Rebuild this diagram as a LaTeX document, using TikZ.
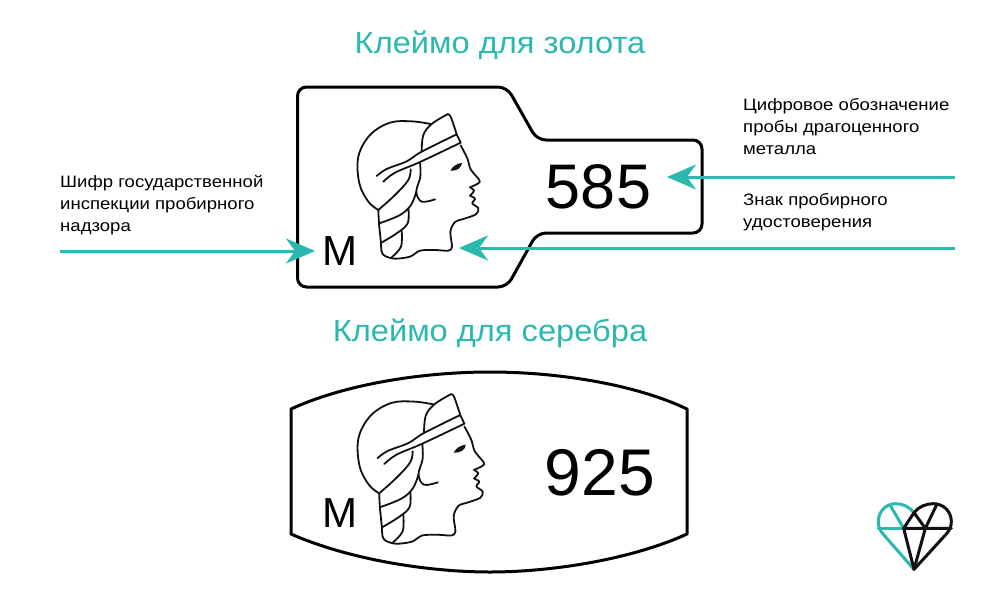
\documentclass[tikz,border=0pt]{standalone}
\usepackage{fontspec}
\setmainfont{Liberation Sans}
\usetikzlibrary{arrows.meta}
\definecolor{teal1}{HTML}{2BB8AE}
\definecolor{ink}{HTML}{111111}
\tikzset{
  stamp/.style={draw=black,line width=3pt,line join=round},
  headline/.style={draw=ink,line width=1.8pt,line cap=round,line join=round},
  title/.style={text=teal1,font=\fontsize{30.5}{34}\selectfont\addfontfeature{FakeStretch=1.07},inner sep=0pt,anchor=center},
  note/.style={text=black,font=\fontsize{16.5}{22}\selectfont\addfontfeature{FakeStretch=1.125},inner sep=0pt,anchor=north west,align=left},
  marker/.style={text=black,font=\fontsize{42}{46}\selectfont,inner sep=0pt,anchor=center},
  numeral/.style={text=black,font=\fontsize{63}{66}\selectfont,inner sep=0pt,anchor=center},
  numeralb/.style={text=black,font=\fontsize{66}{70}\selectfont,inner sep=0pt,anchor=center},
  pointer/.style={draw=teal1,line width=3pt,-{Stealth[length=29pt,width=25pt,inset=9pt]}},
  logot/.style={draw=teal1,line width=3pt,line join=round,line cap=round},
  logok/.style={draw=ink,line width=3pt,line join=round,line cap=round},
}
\newcommand{\headart}{%
  % dome
  \draw[headline] plot[smooth,tension=.6] coordinates {(272,72) (215,64) (150,68) (90,105) (55,170) (58,250) (85,305) (115,330)};
  % front flap
  \draw[headline] plot[smooth,tension=.6] coordinates {(245,155) (250,105) (275,72) (322,43)};
  \draw[headline] plot[smooth,tension=.6] coordinates {(322,43) (332,50) (350,103)};
  % band
  \draw[headline] plot[smooth,tension=.6] coordinates {(110,228) (140,207) (200,184) (245,155) (350,103)};
  \draw[headline] (350,103) -- (362,128);
  \draw[headline] plot[smooth,tension=.6] coordinates {(130,245) (165,218) (240,186) (362,128)};
  % face
  \draw[headline] plot[smooth,tension=.5] coordinates {(362,136) (382,175) (392,208) (418,240) (415,250) (390,262)};
  \draw[headline] plot[smooth,tension=.5] coordinates {(390,262) (402,272) (390,287)};
  \draw[headline] plot[smooth,tension=.5] coordinates {(390,287) (405,296) (397,310) (415,325) (408,343) (370,357) (345,366) (331,395) (336,440) (325,452) (285,450) (240,452) (210,470) (165,476) (135,468) (125,455) (122,420) (117,370) (115,330)};
  % hair
  \draw[headline] plot[smooth,tension=.6] coordinates {(240,186) (241,230) (229,275) (245,305) (285,298)};
  \draw[headline] plot[smooth,tension=.6] coordinates {(212,208) (205,240) (165,285) (115,330)};
  \draw[headline] plot[smooth,tension=.6] coordinates {(229,275) (213,315) (180,345) (118,370)};
  \draw[headline] plot[smooth,tension=.6] coordinates {(205,325) (203,370) (170,400) (124,428)};
  \draw[headline] plot[smooth,tension=.6] coordinates {(185,392) (183,440) (155,472)};
  % eye
  \fill[ink] (331,212) .. controls (338,198) and (352,190) .. (366,189) .. controls (365,203) and (350,214) .. (331,212) -- cycle;
}
\begin{document}
\begin{tikzpicture}[x=1pt,y=-1pt]
\useasboundingbox (0,0) rectangle (1000,600);
\fill[white] (0,0) rectangle (1000,600);

\node[title] (titleGold) at (500,45) {Клеймо для золота};
\node[title] (titleSilver) at (490,333) {Клеймо для серебра};

% gold stamp
\draw[stamp,rounded corners=9pt] (297.5,87) -- (507,87) -- (537,140) -- (702,140) -- (702,233) -- (537,233) -- (507,287) -- (297.5,287) -- cycle;
\begin{scope}[shift={(340,100)},scale=1/3]\headart\end{scope}
\node[marker] (mGold) at (339.5,251) {М};
\node[numeral] (numGold) at (598.5,187) {585};

% silver stamp
\draw[stamp] (291,409) .. controls (350,382) and (430,372) .. (490,372) .. controls (550,372) and (630,382) .. (687,409) -- (687,534) .. controls (630,560) and (550,572) .. (490,572) .. controls (430,572) and (350,560) .. (291,534) -- cycle;
\begin{scope}[shift={(339.5,379.5)},scale=1.035/3]\headart\end{scope}
\node[marker] (mSilver) at (340,513) {М};
\node[numeralb] (numSilver) at (600,473) {925};

% notes
\node[note] (noteCipher) at (60,175.5) {Шифр государственной\\инспекции пробирного\\надзора};
\node[note] (noteDigit) at (743,98.5) {Цифровое обозначение\\пробы драгоценного\\металла};
\node[note] (noteSign) at (743,193.5) {Знак пробирного\\удостоверения};

% arrows
\coordinate (startCipher) at (60,251);
\coordinate (tipCipher) at (315,251);
\coordinate (startDigit) at (955,177);
\coordinate (tipDigit) at (667,177);
\coordinate (startSign) at (955,248);
\coordinate (tipSign) at (459,248);
\draw[pointer] (startCipher) -- (tipCipher);
\draw[pointer] (startDigit) -- (tipDigit);
\draw[pointer] (startSign) -- (tipSign);

% logo
\begin{scope}[shift={(860,490)},scale=1/3]
  \draw[logot] (162,68) .. controls (148,50) and (128,41) .. (107,41) .. controls (78,41) and (55,64) .. (55,95) .. controls (55,110) and (60,122) .. (70,133) -- (162,238);
  \draw[logot] (55,115) -- (131,115);
  \draw[logot] (90,45) -- (131,115);
  \draw[logok] (131,115) -- (162,68) .. controls (176,50) and (198,41) .. (220,41) .. controls (250,41) and (274,64) .. (274,95) .. controls (274,110) and (268,122) .. (258,133) -- (162,238) -- (131,115) -- (274,115);
  \draw[logok] (162,68) -- (196,115) -- (162,238);
  \draw[logok] (230,44) -- (196,115);
\end{scope}
\end{tikzpicture}
\end{document}
